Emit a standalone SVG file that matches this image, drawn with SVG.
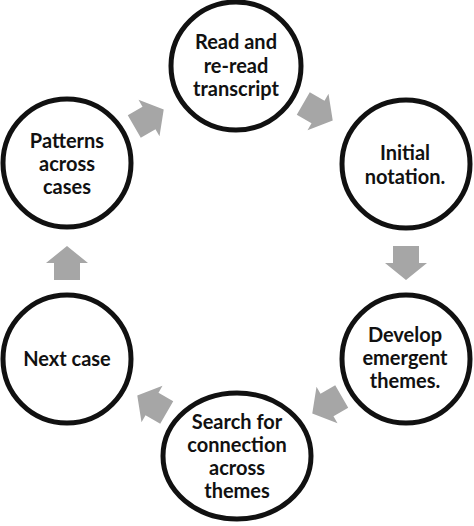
<svg xmlns="http://www.w3.org/2000/svg" width="474" height="526" viewBox="0 0 474 526">
  <defs>
    <style>
      .node { fill: #ffffff; stroke: #111111; stroke-width: 5; }
      .lbl { font-family: Lato, "Open Sans", "Liberation Sans", sans-serif; font-weight: bold; font-size: 20px; fill: #111111; text-anchor: middle; }
      .arrow { fill: #a6a6a6; }
    </style>
    <path id="blk" d="M-17,-13 L0,-13 L0,-21 L17,0 L0,21 L0,13 L-17,13 Z"/>
  </defs>
  <rect width="474" height="526" fill="#ffffff"/>

  <g id="connectors">
    <use href="#blk" class="arrow" transform="translate(149,118) rotate(-30)"/>
    <use href="#blk" class="arrow" transform="translate(318,112) rotate(30)"/>
    <use href="#blk" class="arrow" transform="translate(406,263) rotate(90)"/>
    <use href="#blk" class="arrow" transform="translate(327,405) rotate(150)"/>
    <use href="#blk" class="arrow" transform="translate(152,404) rotate(210)"/>
    <use href="#blk" class="arrow" transform="translate(67,263) rotate(-90)"/>
  </g>

  <g id="read">
    <ellipse class="node" cx="236" cy="66" rx="65" ry="64"/>
    <text class="lbl" x="236" y="49">Read and</text>
    <text class="lbl" x="236" y="73">re-read</text>
    <text class="lbl" x="236" y="96">transcript</text>
  </g>

  <g id="initial">
    <ellipse class="node" cx="406" cy="164" rx="64" ry="64"/>
    <text class="lbl" x="405" y="160">Initial</text>
    <text class="lbl" x="405" y="184">notation.</text>
  </g>

  <g id="develop">
    <ellipse class="node" cx="406" cy="359" rx="64" ry="64"/>
    <text class="lbl" x="405" y="342">Develop</text>
    <text class="lbl" x="405" y="365">emergent</text>
    <text class="lbl" x="405" y="388">themes.</text>
  </g>

  <g id="search">
    <ellipse class="node" cx="237" cy="456" rx="74" ry="63"/>
    <text class="lbl" x="237" y="429">Search for</text>
    <text class="lbl" x="237" y="452">connection</text>
    <text class="lbl" x="237" y="475">across</text>
    <text class="lbl" x="237" y="498">themes</text>
  </g>

  <g id="next">
    <ellipse class="node" cx="67" cy="359" rx="64" ry="64"/>
    <text class="lbl" x="67" y="366">Next case</text>
  </g>

  <g id="patterns">
    <ellipse class="node" cx="67" cy="163" rx="64" ry="64"/>
    <text class="lbl" x="67" y="148">Patterns</text>
    <text class="lbl" x="67" y="171">across</text>
    <text class="lbl" x="67" y="194">cases</text>
  </g>
</svg>
